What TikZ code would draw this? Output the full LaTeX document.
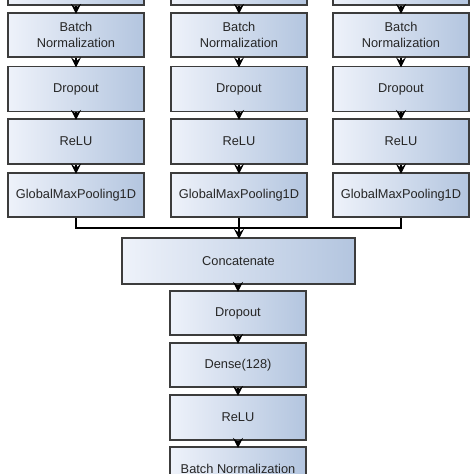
\documentclass[tikz,border=0pt]{standalone}
\usepackage{fontspec}
\setmainfont{Liberation Sans}
\usetikzlibrary{arrows.meta}
\definecolor{boxL}{HTML}{EEF2FA}
\definecolor{boxR}{HTML}{B3C5DF}
\definecolor{edge}{HTML}{3C3C3C}
\tikzset{
  layer/.style={draw=edge, line width=1.3pt, left color=boxL, right color=boxR,
    minimum width=136pt, inner sep=0pt, align=center, font=\fontsize{12.8}{16.5}\selectfont, text=black!85},
  flow/.style={draw=black, line width=1.1pt, shorten >=-1.5pt, -{Stealth[length=10pt,width=10pt,inset=4pt]}},
  link/.style={draw=black, line width=1.1pt}
}
\begin{document}
\begin{tikzpicture}[x=1pt,y=-1pt]
\useasboundingbox (0,0) rectangle (474,474);
\clip (0,0) rectangle (474,474);
% columns
\foreach \c/\cx in {a/76,b/239,c/401}{
  \node[layer, minimum height=45pt] (\c0) at (\cx,-17.5) {};
  \node[layer, minimum height=44pt] (\c1) at (\cx,35) {Batch\\Normalization};
  \node[layer, minimum height=45pt] (\c2) at (\cx,89) {Dropout};
  \node[layer, minimum height=45pt] (\c3) at (\cx,141.5) {ReLU};
  \node[layer, minimum height=44pt] (\c4) at (\cx,195) {GlobalMaxPooling1D};
  \draw[flow] (\c0) -- (\c1);
  \draw[flow] (\c1) -- (\c2);
  \draw[flow] (\c2) -- (\c3);
  \draw[flow] (\c3) -- (\c4);
}
\node[layer, minimum width=233pt, minimum height=46pt] (cat) at (238.5,261) {Concatenate};
\node[layer, minimum height=44pt] (d1) at (238,313) {Dropout};
\node[layer, minimum height=44pt] (d2) at (238,365) {Dense(128)};
\node[layer, minimum height=45pt] (d3) at (238,417.5) {ReLU};
\node[layer, minimum height=44pt] (d4) at (238,469) {Batch Normalization};
\coordinate (ja) at (76,228);
\coordinate (jb) at (239,228);
\coordinate (jc) at (401,228);
\draw[link] (a4.south) -- (ja) -- (jc) -- (c4.south);
\draw[link] (b4.south) -- (jb);
\draw[flow] (jb) -- (cat.north -| jb);
\draw[flow] (cat.south -| d1) -- (d1);
\draw[flow] (d1) -- (d2);
\draw[flow] (d2) -- (d3);
\draw[flow] (d3) -- (d4);
\end{tikzpicture}
\end{document}
